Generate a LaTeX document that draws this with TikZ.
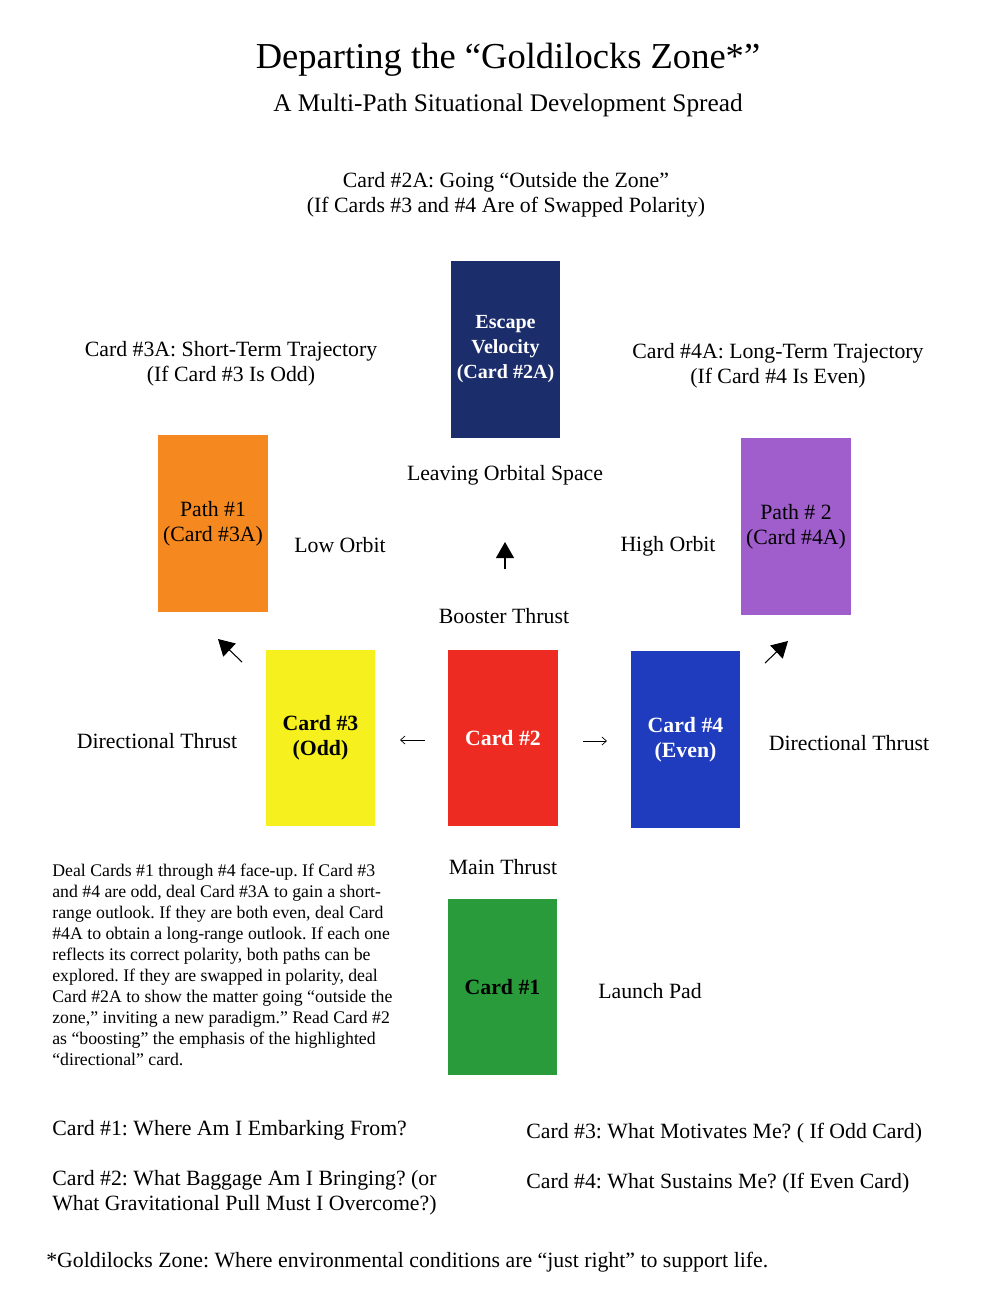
\documentclass[tikz,border=0pt]{standalone}
\usepackage{fontspec}
\setmainfont{Liberation Serif}
\usepackage{tikz}
\usetikzlibrary{arrows.meta}
\frenchspacing

\definecolor{escapeblue}{HTML}{1C2D6B}
\definecolor{pathorange}{HTML}{F5891F}
\definecolor{pathpurple}{HTML}{A05DCC}
\definecolor{oddyellow}{HTML}{F6F11E}
\definecolor{thrustred}{HTML}{EE2B22}
\definecolor{evenblue}{HTML}{1F3BBE}
\definecolor{padgreen}{HTML}{2A9B3B}

\tikzset{
	card/.style = {minimum width = 2.2cm, minimum height = 3.54cm, inner sep = 0pt, align = center, font = \fontsize{12.4}{14.2}\selectfont},
	lbl/.style = {inner sep = 0pt, align = center, font = \fontsize{12.4}{14.2}\selectfont},
	thrust/.style = {semithick, -{Triangle[length = 0.32cm, width = 0.36cm]}},
	turn/.style = {thin, -{Straight Barb[length = 0.9mm, width = 1.6mm]}}
}

\begin{document}
\begin{tikzpicture}[x = 0.02cm, y = -0.02cm]
				\useasboundingbox (0, 0) rectangle (1000, 1305);

				\node[lbl, font = \fontsize{20.8}{24}\selectfont](title) at (508, 60){Departing the “Goldilocks Zone*”};
				\node[lbl, font = \fontsize{14.4}{17}\selectfont](subtitle) at (508, 105){A Multi-Path Situational Development Spread};
				\node[lbl](zonea) at (506, 195){Card \#2A: Going “Outside the Zone”\\(If Cards \#3 and \#4 Are of Swapped Polarity)};

				\node[card, fill = escapeblue, text = white, font = \fontsize{11.4}{14.2}\selectfont\bfseries](c2a) at (505.5, 349.5){Escape\\Velocity\\(Card \#2A)};
				\node[card, fill = pathorange](c3a) at (213, 523.5){Path \#1\\(Card \#3A)};
				\node[card, fill = pathpurple](c4a) at (796, 526.5){Path \# 2\\(Card \#4A)};
				\node[card, fill = oddyellow, font = \fontsize{12.4}{14.2}\selectfont\bfseries](c3) at (320.5, 738){Card \#3\\(Odd)};
				\node[card, fill = thrustred, text = white, font = \fontsize{12.4}{14.2}\selectfont\bfseries](c2) at (503, 738){Card \#2};
				\node[card, fill = evenblue, text = white, font = \fontsize{12.4}{14.2}\selectfont\bfseries](c4) at (685.5, 739.5){Card \#4\\(Even)};
				\node[card, fill = padgreen, font = \fontsize{12.4}{14.2}\selectfont\bfseries](c1) at (502.5, 987){Card \#1};

				\node[lbl](shortterm) at (231, 364){Card \#3A: Short-Term Trajectory\\(If Card \#3 Is Odd)};
				\node[lbl](longterm) at (778, 366){Card \#4A: Long-Term Trajectory\\(If Card \#4 Is Even)};
				\node[lbl](leaving) at (505, 475){Leaving Orbital Space};
				\node[lbl](loworbit) at (340, 545){Low Orbit};
				\node[lbl](highorbit) at (668, 546){High Orbit};
				\node[lbl](booster) at (504, 616){Booster Thrust};
				\node[lbl](dirleft) at (157, 741){Directional Thrust};
				\node[lbl](dirright) at (849, 743){Directional Thrust};
				\node[lbl](mainthrust) at (503, 867){Main Thrust};
				\node[lbl](launchpad) at (650, 991){Launch Pad};

				\coordinate[](upa) at (505, 569);
				\coordinate[](upb) at (505, 542);
				\coordinate[](nwa) at (242, 662);
				\coordinate[](nwb) at (218, 639);
				\coordinate[](nea) at (765, 663);
				\coordinate[](neb) at (788, 641);
				\coordinate[](lfa) at (425, 740);
				\coordinate[](lfb) at (400, 740);
				\coordinate[](rta) at (583, 741);
				\coordinate[](rtb) at (607, 741);

				\draw[thrust] (upa)--(upb);
				\draw[thrust] (nwa)--(nwb);
				\draw[thrust] (nea)--(neb);
				\draw[turn] (lfa)--(lfb);
				\draw[turn] (rta)--(rtb);

				\node[inner sep = 0pt, anchor = north west, align = left, font = \fontsize{10.1}{11.95}\selectfont](howto) at (52, 864){Deal Cards \#1 through \#4 face-up. If Card \#3\\and \#4 are odd, deal Card \#3A to gain a short-\\range outlook. If they are both even, deal Card\\\#4A to obtain a long-range outlook. If each one\\reflects its correct polarity, both paths can be\\explored. If they are swapped in polarity, deal\\Card \#2A to show the matter going “outside the\\zone,” inviting a new paradigm.” Read Card \#2\\as “boosting” the emphasis of the highlighted\\“directional” card.};

				\node[lbl, anchor = west](q1) at (52, 1130){Card \#1: Where Am I Embarking From?};
				\node[lbl, anchor = west, align = left](q2) at (52, 1193){Card \#2: What Baggage Am I Bringing? (or\\What Gravitational Pull Must I Overcome?)};
				\node[lbl, anchor = west](q3) at (526, 1133){Card \#3: What Motivates Me? ( If Odd Card)};
				\node[lbl, anchor = west](q4) at (526, 1183){Card \#4: What Sustains Me? (If Even Card)};
				\node[lbl, anchor = west](footnote) at (46, 1262){*Goldilocks Zone: Where environmental conditions are “just right” to support life.};
			\end{tikzpicture}
\end{document}
